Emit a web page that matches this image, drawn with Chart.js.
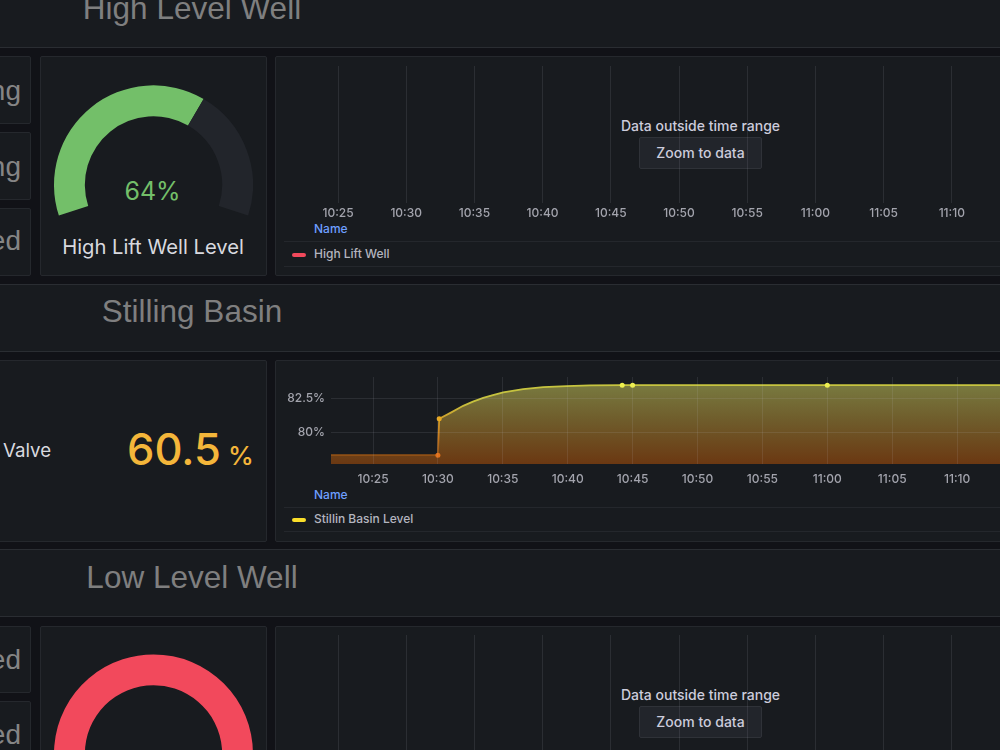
<!DOCTYPE html>
<html>
<head>
<meta charset="utf-8">
<script src="https://cdn.jsdelivr.net/npm/chart.js@4"></script>
<style>
html, body { margin: 0; width: 1000px; height: 750px; overflow: hidden; background: #111217; }
body { position: relative; font-family: Inter, sans-serif; color: #ccccdc; }
.panel { position: absolute; box-sizing: border-box; background: #181b1f; border: 1px solid #25282d; border-radius: 2px; }
.banner { position: absolute; left: -10px; width: 1020px; box-sizing: border-box; background: #181b1f; border: 1px solid #2a2d32; }
.title { position: absolute; width: 384px; left: 0; text-align: center; font: 31.5px "Liberation Sans", sans-serif; line-height: 32px; color: #7f7f7f; white-space: nowrap; }
.txt { position: absolute; white-space: nowrap; line-height: 1; }
.frag { right: 979px; font: 28px "Liberation Sans", sans-serif; color: #858585; }
.line { position: absolute; left: 284px; width: 716px; height: 1px; background: #24272c; }
.swatch { position: absolute; left: 292px; width: 14px; height: 4px; border-radius: 2px; }
.name { left: 314px; font-size: 12px; font-weight: 500; color: #6e9fff; }
.legend { left: 314px; font-size: 12px; font-weight: 500; color: #b4b5bf; }
.msg { left: 600px; width: 201px; text-align: center; font-size: 14px; font-weight: 500; color: #ccccdc; }
.btn { position: absolute; left: 639px; width: 123px; height: 32px; box-sizing: border-box; background: #22252b; border: 1px solid #2f3238; border-radius: 2px; font-size: 14px; font-weight: 500; color: #ccccdc; text-align: center; line-height: 30px; }
canvas { position: absolute; }
</style>
</head>
<body>
<div class="banner" style="top:-30px;height:78px"></div>
<div class="title" style="top:-8px">High Level Well</div>
<div class="banner" style="top:284px;height:68px"></div>
<div class="title" style="top:295px">Stilling Basin</div>
<div class="banner" style="top:549px;height:68px"></div>
<div class="title" style="top:561px">Low Level Well</div>

<div class="panel" style="left:-10px;top:56px;width:41px;height:68px"></div>
<div class="panel" style="left:-10px;top:132px;width:41px;height:68px"></div>
<div class="panel" style="left:-10px;top:208px;width:41px;height:68px"></div>
<div class="txt frag" style="top:75px">ng</div>
<div class="txt frag" style="top:151px">ng</div>
<div class="txt frag" style="top:225px">ed</div>
<div class="panel" style="left:40px;top:56px;width:227px;height:220px"></div>
<div class="panel" style="left:275px;top:56px;width:735px;height:220px"></div>
<div class="txt msg" style="top:119px">Data outside time range</div>
<div class="btn" style="top:137px">Zoom to data</div>
<div class="txt name" style="top:223px">Name</div>
<div class="line" style="top:241px"></div>
<div class="swatch" style="top:253px;background:#f2495c"></div>
<div class="txt legend" style="top:248px">High Lift Well</div>
<div class="line" style="top:266px"></div>
<div class="txt" style="left:40px;width:225px;text-align:center;top:179px;font-size:25px;color:#73bf69">64%</div>
<div class="txt" style="left:40px;width:226px;text-align:center;top:237px;font-size:20.2px;color:#d8d9df">High Lift Well Level</div>

<div class="panel" style="left:-10px;top:360px;width:277px;height:182px"></div>
<div class="panel" style="left:275px;top:360px;width:735px;height:182px"></div>
<div class="txt" style="left:3px;top:442px;font-size:18.7px;color:#d8d9df">Valve</div>
<div class="txt" style="left:127px;top:428px;font-size:43.5px;font-weight:500;color:#f4b63a">60.5</div>
<div class="txt" style="left:228px;top:443px;font-size:26px;font-weight:500;color:#f4b63a">%</div>
<div class="txt name" style="top:489px">Name</div>
<div class="line" style="top:507px"></div>
<div class="swatch" style="top:518px;background:#fade2a"></div>
<div class="txt legend" style="top:513px">Stillin Basin Level</div>
<div class="line" style="top:531px"></div>

<div class="panel" style="left:-10px;top:626px;width:41px;height:67px"></div>
<div class="panel" style="left:-10px;top:701px;width:41px;height:68px"></div>
<div class="txt frag" style="top:644px">ed</div>
<div class="txt frag" style="top:719px">ed</div>
<div class="panel" style="left:40px;top:626px;width:227px;height:220px"></div>
<div class="panel" style="left:275px;top:626px;width:735px;height:220px"></div>
<div class="txt msg" style="top:688px">Data outside time range</div>
<div class="btn" style="top:706px">Zoom to data</div>

<canvas id="highGauge" width="199" height="131" style="left:54px;top:85px"></canvas>
<canvas id="lowGauge" width="199" height="131" style="left:54px;top:654px"></canvas>
<canvas id="highTime" width="716" height="155" style="left:284px;top:66px"></canvas>
<canvas id="basinTime" width="716" height="113" style="left:284px;top:377px"></canvas>
<canvas id="lowTime" width="716" height="155" style="left:284px;top:635px"></canvas>

<script>
// times are minutes since midnight
const tickMinutes = [625, 630, 635, 640, 645, 650, 655, 660, 665, 670];
const tickLabels = ['10:25', '10:30', '10:35', '10:40', '10:45', '10:50', '10:55', '11:00', '11:05', '11:10'];

const highGaugeValues = [64, 36];
const lowGaugeValues = [100, 0];

const basinTimes = [621, 630, 630.1, 631, 631.95, 632.7, 633.49, 634.24, 635.03, 636.57, 638.11, 639.91, 641.71, 644.2, 645, 660, 675];
const basinLevels = [78.3, 78.3, 80.98, 81.43, 81.93, 82.24, 82.52, 82.72, 82.92, 83.16, 83.31, 83.38, 83.43, 83.45, 83.45, 83.45, 83.45];
const basinMarkers = [630, 630.1, 644.2, 645, 660];
const levelTicks = [80, 82.5];

const gridColor = 'rgba(204,204,220,0.11)';
const tickColor = '#a3a4ad';
const tickFont = { family: 'Inter', size: 12, weight: '500' };

Chart.defaults.animation = false;
Chart.defaults.responsive = false;
Chart.defaults.plugins.legend.display = false;
Chart.defaults.plugins.tooltip.enabled = false;

function gauge(id, values, colors) {
    new Chart(document.getElementById(id), {
        type: 'doughnut',
        data: { datasets: [{ data: values, backgroundColor: colors, borderWidth: 0 }] },
        options: { rotation: -108, circumference: 216, cutout: '69%' }
    });
}
gauge('highGauge', highGaugeValues, ['#73bf69', '#22252b']);
gauge('lowGauge', lowGaugeValues, ['#f2495c', '#22252b']);

function xAxis(min, max, height, padding) {
    return {
        type: 'linear', min: min, max: max,
        border: { display: false },
        grid: { color: gridColor, tickLength: 0, z: 1 },
        afterBuildTicks: scale => { scale.ticks = tickMinutes.map(v => ({ value: v })); },
        afterFit: scale => { scale.height = height; scale.paddingLeft = 0; scale.paddingRight = 0; },
        ticks: {
            autoSkip: false, maxRotation: 0, padding: padding, color: tickColor, font: tickFont,
            callback: v => tickLabels[tickMinutes.indexOf(v)]
        }
    };
}

// empty panels: 68.2px per 5 min, 10:25 at x=338
function emptyTime(id) {
    new Chart(document.getElementById(id), {
        type: 'line',
        data: { datasets: [{ data: [] }] },
        options: {
            scales: {
                x: xAxis(625 - 54 / 13.64, 625 + 662 / 13.64, 18, 3),
                y: { display: false }
            }
        }
    });
}
emptyTime('highTime');
emptyTime('lowTime');

function ramp(chart, stops) {
    const area = chart.chartArea;
    if (!area) return '#fade2a';
    const g = chart.ctx.createLinearGradient(0, area.top, 0, area.bottom);
    stops.forEach(s => g.addColorStop(s[0], s[1]));
    return g;
}

const isMarker = ctx => basinMarkers.includes(basinTimes[ctx.dataIndex]);
const markerColor = ctx => {
    const v = basinLevels[ctx.dataIndex];
    return v > 83 ? '#eef04e' : v > 80 ? '#e8a820' : '#e0701a';
};

new Chart(document.getElementById('basinTime'), {
    type: 'line',
    data: {
        datasets: [{
            data: basinTimes.map((t, i) => ({ x: t, y: basinLevels[i] })),
            borderWidth: 1.8,
            borderColor: ctx => ramp(ctx.chart, [[0, '#c6c640'], [0.3, '#c6c03e'], [0.48, '#cf9f2c'], [0.7, '#c8781c'], [0.9, '#8e4f15'], [1, '#8e4f15']]),
            fill: 'start',
            backgroundColor: ctx => ramp(ctx.chart, [[0, '#78793f'], [0.1, '#78793f'], [0.5, '#6f5c2b'], [1, '#6b3812']]),
            pointRadius: ctx => isMarker(ctx) ? 2.5 : 0,
            pointBorderWidth: 0,
            pointBackgroundColor: markerColor
        }]
    },
    options: {
        scales: {
            x: xAxis(625 - 42 / 12.98, 625 + 627 / 12.98, 26, 8),
            y: {
                min: 77.65, max: 84.05,
                border: { display: false },
                grid: { color: gridColor, tickLength: 0, z: 1 },
                afterBuildTicks: scale => { scale.ticks = levelTicks.map(v => ({ value: v })); },
                afterFit: scale => { scale.width = 47; scale.paddingTop = 0; scale.paddingBottom = 0; },
                ticks: { padding: 6, color: tickColor, font: tickFont, callback: v => v + '%' }
            }
        }
    }
});
</script>
</body>
</html>
